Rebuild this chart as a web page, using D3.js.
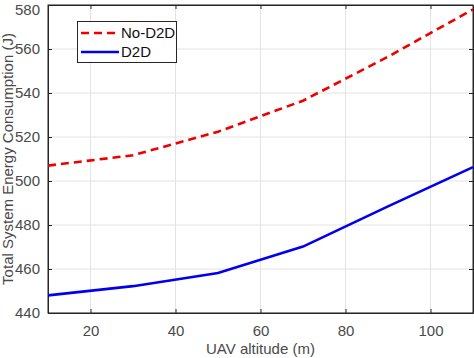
<!DOCTYPE html>
<html><head><meta charset="utf-8">
<script src="https://cdn.jsdelivr.net/npm/d3@7"></script>
<style>body{margin:0;background:#fff}svg{display:block;font-family:"Liberation Sans",Arial,sans-serif}</style>
</head><body><svg id="c" width="474" height="358"></svg>
<script>
const altitudes = [10, 30, 50, 70, 90, 110];
const noD2D = [507, 511.7, 522.4, 536.5, 556.5, 578];
const d2d = [448, 452.2, 458.2, 470.2, 488.5, 506.3];
const xTicks = [20, 40, 60, 80, 100];
const yTicks = [440, 460, 480, 500, 520, 540, 560, 580];
const seriesNames = ["No-D2D", "D2D"];

const svg = d3.select("#c");
const L = 48, R = 473, T = 5, B = 313;
const x = d3.scaleLinear().domain([10, 110]).range([L, R]);
const y = d3.scaleLinear().domain([440, 580]).range([B, T]);
const axisCol = "#262626", txtCol = "#4a4a4a", fs = 15;

// grid
const g = svg.append("g");
g.selectAll(".gx").data(xTicks).enter().append("line")
  .attr("x1", d => x(d)).attr("x2", d => x(d)).attr("y1", T).attr("y2", B)
  .attr("stroke", "#e3e3e3").attr("stroke-width", 1);
g.selectAll(".gy").data(yTicks).enter().append("line")
  .attr("y1", d => y(d)).attr("y2", d => y(d)).attr("x1", L).attr("x2", R)
  .attr("stroke", "#e3e3e3").attr("stroke-width", 1);

// axes
const xa = svg.append("g").attr("transform", `translate(0,${B})`)
  .call(d3.axisBottom(x).tickValues(xTicks).tickSizeInner(-4).tickSizeOuter(0).tickPadding(12));
const xt = svg.append("g").attr("transform", `translate(0,${T})`)
  .call(d3.axisTop(x).tickValues(xTicks).tickSizeInner(-4).tickSizeOuter(0).tickFormat(""));
const ya = svg.append("g").attr("transform", `translate(${L},0)`)
  .call(d3.axisLeft(y).tickValues(yTicks).tickSizeInner(-4).tickSizeOuter(0).tickPadding(8));
const yr = svg.append("g").attr("transform", `translate(${R},0)`)
  .call(d3.axisRight(y).tickValues(yTicks).tickSizeInner(-4).tickSizeOuter(0).tickFormat(""));
[xa, xt, ya, yr].forEach(a => {
  a.select(".domain").attr("stroke", axisCol).attr("stroke-width", 1);
  a.selectAll(".tick line").attr("stroke", axisCol);
  a.selectAll("text").attr("fill", txtCol).attr("font-size", fs)
    .attr("font-family", "Liberation Sans, Arial, sans-serif");
});
ya.selectAll(".tick text").filter(d => d === 580).attr("dy", "0.62em");
svg.append("rect").attr("x", L).attr("y", T).attr("width", R - L).attr("height", B - T)
  .attr("fill", "none").attr("stroke", axisCol).attr("stroke-width", 1);

// lines
const line = d3.line().x((d, i) => x(altitudes[i])).y(d => y(d));
svg.append("path").datum(noD2D).attr("d", line).attr("fill", "none")
  .attr("stroke", "#ee0000").attr("stroke-width", 2.6).attr("stroke-dasharray", "8,5");
svg.append("path").datum(d2d).attr("d", line).attr("fill", "none")
  .attr("stroke", "#0000ee").attr("stroke-width", 2.6);

// labels
svg.append("text").attr("x", (L + R) / 2).attr("y", 354).attr("text-anchor", "middle")
  .attr("fill", txtCol).attr("font-size", fs).text("UAV altitude (m)");
svg.append("text").attr("transform", `translate(13,${(T + B) / 2}) rotate(-90)`)
  .attr("text-anchor", "middle").attr("fill", txtCol).attr("font-size", fs)
  .text("Total System Energy Consumption (J)");

// legend
const lg = svg.append("g");
lg.append("rect").attr("x", 77.5).attr("y", 21.5).attr("width", 99).attr("height", 41)
  .attr("fill", "#fff").attr("stroke", axisCol).attr("stroke-width", 1);
const cols = ["#ee0000", "#0000ee"], dashes = ["8,5", null];
seriesNames.forEach((n, i) => {
  const yy = 33 + i * 19;
  lg.append("line").attr("x1", 81).attr("x2", 119).attr("y1", yy).attr("y2", yy)
    .attr("stroke", cols[i]).attr("stroke-width", 2.6).attr("stroke-dasharray", dashes[i]);
  lg.append("text").attr("x", 121).attr("y", yy + 5).attr("font-size", fs)
    .attr("fill", "#111").text(n);
});
</script></body></html>
